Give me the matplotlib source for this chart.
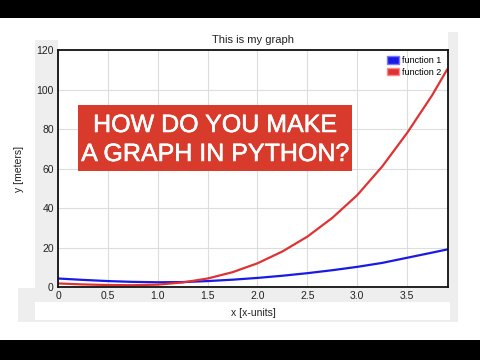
import matplotlib
matplotlib.use("Agg")
from matplotlib import pyplot as plt
from matplotlib import patheffects
from matplotlib.patches import Rectangle

x_vals = [0, 0.25, 0.5, 0.75, 1.0, 1.25, 1.5, 1.75, 2.0, 2.25, 2.5, 2.75, 3.0, 3.25, 3.5, 3.75, 3.9]
func1 = [4.3, 3.6, 3.0, 2.6, 2.4, 2.5, 3.0, 3.7, 4.6, 5.7, 7.0, 8.5, 10.2, 12.2, 14.8, 17.4, 19.0]
func2 = [1.8, 1.3, 1.0, 0.9, 1.2, 2.3, 4.3, 7.5, 12.0, 18.0, 25.5, 35.0, 46.5, 61.0, 78.0, 97.0, 110.0]
x_ticks = [0, 0.5, 1.0, 1.5, 2.0, 2.5, 3.0, 3.5]
x_tick_labels = ["0", "0.5", "1.0", "1.5", "2.0", "2.5", "3.0", "3.5"]
y_ticks = [0, 20, 40, 60, 80, 100, 120]

plt.rcParams["font.family"] = ["Liberation Sans", "DejaVu Sans"]

W, H = 480, 360
fig = plt.figure(figsize=(4.8, 3.6), dpi=100)
fig.patch.set_facecolor("white")


def px_rect(x0, y0, x1, y1, color, z=0):
    # pixel coords from top-left
    fig.patches.append(Rectangle((x0 / W, 1 - y1 / H), (x1 - x0) / W, (y1 - y0) / H,
                                 transform=fig.transFigure, facecolor=color,
                                 edgecolor="none", zorder=z))


gray = "#eeeeef"
# screenshot panel pieces
px_rect(35, 40, 58, 300, gray)
px_rect(18, 288, 458, 322, gray)
px_rect(448, 32, 458, 322, gray)
px_rect(35, 302, 450, 320, "white", z=1)
# black bars
px_rect(0, 0, 480, 18, "black", z=2)
px_rect(0, 340, 480, 360, "black", z=2)

ax = fig.add_axes([58 / W, 1 - 287 / H, (448 - 58) / W, (287 - 50) / H])
ax.set_zorder(3)
ax.set_facecolor("white")
ax.plot(x_vals, func1, color="#1a1ae6", linewidth=1.6, label="function 1")
ax.plot(x_vals, func2, color="#e03232", linewidth=1.6, label="function 2")
ax.set_xlim(0, 3.91)
ax.set_ylim(0, 120)
ax.set_xticks(x_ticks, x_tick_labels)
ax.set_yticks(y_ticks)
ax.grid(color="#dddddd", linewidth=0.8)
ax.set_axisbelow(True)
ax.tick_params(length=0, labelsize=7.5, colors="#222222", pad=3)
for s in ax.spines.values():
    s.set_linewidth(1.3)
    s.set_color("#111111")

ax.set_title("This is my graph", fontsize=8, color="#222222", pad=5)
ax.set_xlabel("x [x-units]", fontsize=7.5, color="#222222", labelpad=5)
ax.set_ylabel("y [meters]", fontsize=7.5, color="#222222", labelpad=9)

h1 = Rectangle((0, 0), 1, 1, facecolor="#1a1ae6", edgecolor="#7777ff")
h2 = Rectangle((0, 0), 1, 1, facecolor="#e03232", edgecolor="#ff8888")
ax.legend([h1, h2], ["function 1", "function 2"], loc="upper right", fontsize=6.5,
          frameon=False, handlelength=1.3, handleheight=0.9, handletextpad=0.4,
          labelspacing=0.25, borderaxespad=0.3)

# red banner
px_rect(78, 105, 352, 171, "#d83a2b", z=5)
thick = [patheffects.withStroke(linewidth=0.4, foreground="white")]
fig.text(215 / W, 1 - 125 / H, "HOW DO YOU MAKE", color="white", fontsize=18,
         ha="center", va="center", zorder=6, path_effects=thick)
fig.text(215 / W, 1 - 154 / H, "A GRAPH IN PYTHON?", color="white", fontsize=18,
         ha="center", va="center", zorder=6, path_effects=thick)

fig.savefig("out.png", dpi=100)
